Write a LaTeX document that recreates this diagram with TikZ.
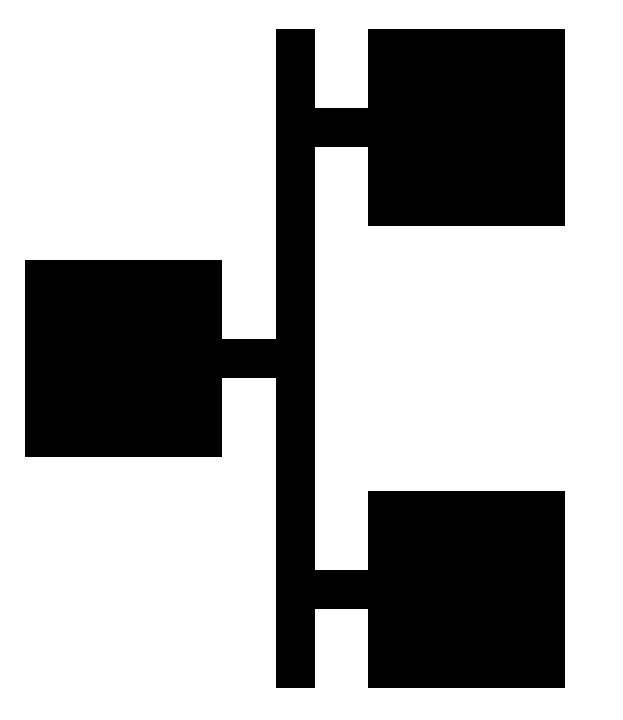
\documentclass[tikz,border=0pt]{standalone}
\usepackage{tikz}
\begin{document}
\begin{tikzpicture}[x=1pt, y=-1pt, every path/.style={line cap=butt}]

        \tikzset{block/.style = {shape=rectangle, fill=black, inner sep=0pt, minimum size=197pt}}
        \tikzset{link/.style = {draw=black, line width=39pt}}

        \useasboundingbox (0,0) rectangle (622,720);

        \node[shape=rectangle, fill=black, inner sep=0pt, minimum width=39pt, minimum height=659pt] (bar) at (295.5,358.5) {};
        \node[block] (top) at (466.5,127.5) {};
        \node[block] (left) at (123.5,358.5) {};
        \node[block] (bottom) at (466.5,589) {};

        \draw[link] (top.west) -- (top.west -| bar.east);
        \draw[link] (left.east) -- (left.east -| bar.west);
        \draw[link] (bottom.west) -- (bottom.west -| bar.east);
\end{tikzpicture}
\end{document}
